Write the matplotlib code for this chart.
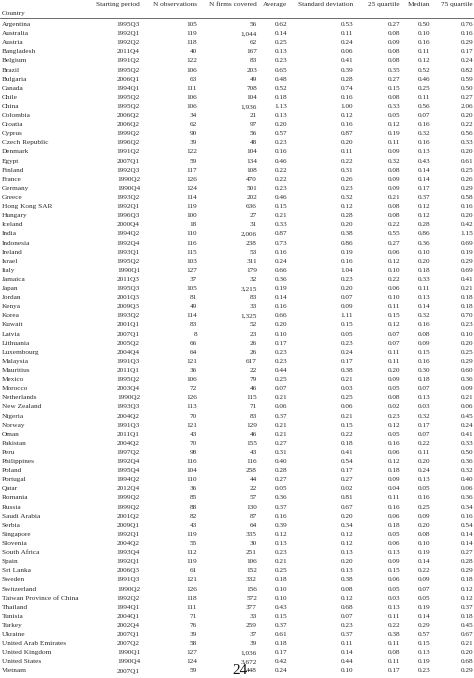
import matplotlib.pyplot as plt

countries = ["Argentina", "Australia", "Austria", "Bangladesh", "Belgium", "Brazil", "Bulgaria",
             "Canada", "Chile", "China", "Colombia", "Croatia", "Cyprus", "Czech Republic",
             "Denmark", "Egypt", "Finland", "France", "Germany", "Greece", "Hong Kong SAR",
             "Hungary", "Iceland", "India", "Indonesia", "Ireland", "Israel", "Italy", "Jamaica",
             "Japan", "Jordan", "Kenya", "Korea", "Kuwait", "Latvia", "Lithuania", "Luxembourg",
             "Malaysia", "Mauritius", "Mexico", "Morocco", "Netherlands", "New Zealand", "Nigeria",
             "Norway", "Oman", "Pakistan", "Peru", "Philippines", "Poland", "Portugal", "Qatar",
             "Romania", "Russia", "Saudi Arabia", "Serbia", "Singapore", "Slovenia", "South Africa",
             "Spain", "Sri Lanka", "Sweden", "Switzerland", "Taiwan Province of China", "Thailand",
             "Tunisia", "Turkey", "Ukraine", "United Arab Emirates", "United Kingdom",
             "United States", "Vietnam"]
start = ["1995Q3", "1992Q1", "1992Q2", "2011Q4", "1991Q2", "1995Q2", "2006Q1", "1994Q1", "1995Q2",
         "1995Q2", "2006Q2", "2006Q2", "1999Q2", "1996Q2", "1991Q2", "2007Q1", "1992Q3", "1990Q2",
         "1990Q4", "1993Q2", "1992Q1", "1996Q3", "2000Q4", "1994Q2", "1992Q4", "1993Q1", "1995Q2",
         "1990Q1", "2011Q3", "1995Q3", "2001Q3", "2009Q3", "1993Q2", "2001Q1", "2007Q1", "2005Q2",
         "2004Q4", "1991Q3", "2011Q1", "1995Q2", "2003Q4", "1990Q2", "1993Q3", "2004Q2", "1991Q3",
         "2011Q1", "2004Q2", "1997Q2", "1992Q4", "1995Q4", "1994Q2", "2012Q4", "1999Q2", "1999Q2",
         "2001Q2", "2009Q1", "1992Q1", "2004Q2", "1993Q4", "1992Q1", "2006Q3", "1991Q3", "1990Q2",
         "1992Q2", "1994Q1", "2004Q1", "2002Q4", "2007Q1", "2007Q2", "1990Q1", "1990Q4", "2007Q1"]
n_obs = ["105", "119", "118", "40", "122", "106", "63", "111", "106", "106", "34", "62", "90", "39",
         "122", "59", "117", "126", "124", "114", "119", "100", "18", "110", "116", "115", "103",
         "127", "37", "105", "81", "49", "114", "83", "8", "66", "64", "121", "36", "106", "72",
         "126", "113", "70", "121", "43", "70", "98", "116", "104", "110", "36", "85", "88", "82",
         "43", "119", "55", "112", "119", "61", "121", "126", "118", "111", "71", "76", "39", "58",
         "127", "124", "59"]
n_firms = ["56", "1,044", "62", "167", "83", "203", "49", "708", "104", "1,936", "21", "97", "56",
           "48", "104", "134", "108", "470", "501", "202", "636", "27", "31", "2,006", "238", "53",
           "311", "179", "32", "3,215", "83", "33", "1,325", "52", "23", "26", "26", "617", "22",
           "79", "46", "115", "71", "83", "129", "46", "155", "43", "116", "258", "44", "22", "57",
           "130", "87", "64", "335", "30", "251", "106", "152", "332", "156", "572", "377", "33",
           "259", "37", "39", "1,036", "3,672", "448"]
average = ["0.62", "0.14", "0.25", "0.13", "0.23", "0.65", "0.48", "0.52", "0.18", "1.13", "0.13",
           "0.20", "0.57", "0.23", "0.16", "0.46", "0.22", "0.22", "0.23", "0.46", "0.15", "0.21",
           "0.33", "0.87", "0.73", "0.16", "0.24", "0.66", "0.36", "0.19", "0.14", "0.16", "0.66",
           "0.20", "0.10", "0.17", "0.23", "0.23", "0.44", "0.25", "0.07", "0.21", "0.06", "0.37",
           "0.21", "0.21", "0.27", "0.31", "0.40", "0.28", "0.27", "0.05", "0.36", "0.37", "0.16",
           "0.39", "0.12", "0.13", "0.23", "0.21", "0.25", "0.18", "0.10", "0.10", "0.43", "0.15",
           "0.37", "0.61", "0.18", "0.17", "0.42", "0.24"]
std_dev = ["0.53", "0.11", "0.24", "0.06", "0.41", "0.39", "0.28", "0.74", "0.16", "1.00", "0.12",
           "0.16", "0.87", "0.20", "0.11", "0.22", "0.31", "0.26", "0.23", "0.32", "0.12", "0.28",
           "0.20", "0.38", "0.86", "0.19", "0.16", "1.04", "0.23", "0.20", "0.07", "0.09", "1.11",
           "0.15", "0.05", "0.23", "0.24", "0.17", "0.38", "0.21", "0.03", "0.25", "0.06", "0.21",
           "0.15", "0.22", "0.18", "0.41", "0.54", "0.17", "0.27", "0.02", "0.81", "0.67", "0.20",
           "0.34", "0.12", "0.12", "0.13", "0.20", "0.13", "0.38", "0.08", "0.12", "0.68", "0.07",
           "0.23", "0.37", "0.11", "0.14", "0.44", "0.10"]
q25 = ["0.27", "0.08", "0.09", "0.08", "0.08", "0.35", "0.27", "0.15", "0.08", "0.33", "0.05", "0.12",
       "0.19", "0.11", "0.09", "0.32", "0.08", "0.09", "0.09", "0.21", "0.08", "0.08", "0.22", "0.55",
       "0.27", "0.06", "0.12", "0.10", "0.22", "0.06", "0.10", "0.11", "0.15", "0.12", "0.07", "0.07",
       "0.11", "0.11", "0.20", "0.09", "0.05", "0.08", "0.02", "0.23", "0.12", "0.05", "0.16", "0.06",
       "0.12", "0.18", "0.09", "0.04", "0.11", "0.16", "0.06", "0.18", "0.05", "0.06", "0.13", "0.09",
       "0.15", "0.06", "0.05", "0.03", "0.13", "0.11", "0.22", "0.38", "0.11", "0.08", "0.11", "0.17"]
median = ["0.50", "0.10", "0.16", "0.11", "0.12", "0.52", "0.46", "0.25", "0.11", "0.56", "0.07",
          "0.16", "0.32", "0.16", "0.13", "0.43", "0.14", "0.14", "0.17", "0.37", "0.12", "0.12",
          "0.28", "0.86", "0.36", "0.10", "0.20", "0.18", "0.33", "0.11", "0.13", "0.14", "0.32",
          "0.16", "0.08", "0.09", "0.15", "0.16", "0.30", "0.18", "0.07", "0.13", "0.03", "0.32",
          "0.17", "0.07", "0.22", "0.11", "0.20", "0.24", "0.13", "0.05", "0.16", "0.25", "0.09",
          "0.20", "0.08", "0.10", "0.19", "0.14", "0.22", "0.09", "0.07", "0.05", "0.19", "0.14",
          "0.29", "0.57", "0.15", "0.13", "0.19", "0.23"]
q75 = ["0.76", "0.16", "0.29", "0.17", "0.24", "0.82", "0.59", "0.50", "0.27", "2.06", "0.20", "0.22",
       "0.56", "0.33", "0.20", "0.61", "0.25", "0.26", "0.29", "0.58", "0.16", "0.20", "0.42", "1.15",
       "0.69", "0.19", "0.29", "0.69", "0.41", "0.21", "0.18", "0.18", "0.70", "0.23", "0.10", "0.20",
       "0.25", "0.29", "0.60", "0.36", "0.09", "0.21", "0.06", "0.45", "0.24", "0.41", "0.33", "0.50",
       "0.36", "0.32", "0.40", "0.06", "0.36", "0.34", "0.16", "0.54", "0.14", "0.14", "0.27", "0.28",
       "0.29", "0.18", "0.12", "0.12", "0.37", "0.18", "0.45", "0.67", "0.21", "0.20", "0.68", "0.29"]

headers = ["Starting period", "N observations", "N firms covered", "Average",
           "Standard deviation", "25 quartile", "Median", "75 quartile"]
columns = [start, n_obs, n_firms, average, std_dev, q25, median, q75]
col_right = [140, 197, 257, 287, 353, 400, 430, 473]

plt.rcParams['font.family'] = ['Liberation Serif', 'DejaVu Serif']
color = '#2a2a2a'
fs = 5.2

fig = plt.figure(figsize=(4.74, 6.78), dpi=100)
ax = fig.add_axes([0, 0, 1, 1])
ax.set_xlim(0, 474)
ax.set_ylim(678, 0)
ax.axis('off')

# header
for h, xr in zip(headers, col_right):
    ax.text(xr, 4.5, h, ha='right', va='center', fontsize=fs, color=color)
ax.text(2, 13, "Country", ha='left', va='center', fontsize=fs, color=color)
ax.plot([0, 474], [17.5, 17.5], color='#555555', lw=0.6)

y0, dy = 24.5, (671 - 24.5) / (len(countries) - 1)
for i, c in enumerate(countries):
    y = y0 + i * dy
    ax.text(2, y, c, ha='left', va='center', fontsize=fs, color=color)
    for col, xr in zip(columns, col_right):
        ax.text(xr, y, col[i], ha='right', va='center', fontsize=fs, color=color)

# page number
ax.text(240, 670, "24", ha='center', va='center', fontsize=11, color='#111111')

fig.savefig('out.png', dpi=100)
